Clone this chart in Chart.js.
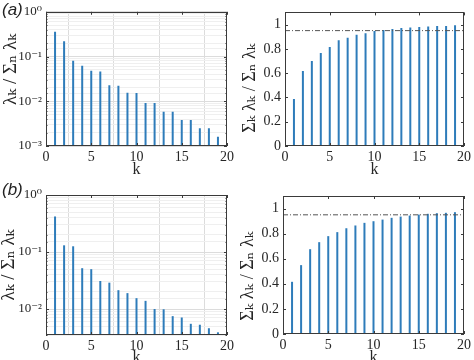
<!DOCTYPE html>
<html>
<head>
<meta charset="utf-8">
<script src="https://cdn.jsdelivr.net/npm/chart.js@4"></script>
<style>
html,body{margin:0;padding:0;background:#fff;width:474px;height:360px;overflow:hidden;}
canvas{position:absolute;}
.lab{position:absolute;font-family:"Liberation Sans",Arial,sans-serif;font-style:italic;font-size:17px;color:#222;}
</style>
</head>
<body>
<canvas id="c1" width="237" height="180" style="left:0;top:0"></canvas>
<canvas id="c2" width="237" height="180" style="left:237px;top:0"></canvas>
<canvas id="c3" width="237" height="180" style="left:0;top:180px"></canvas>
<canvas id="c4" width="237" height="180" style="left:237px;top:180px"></canvas>
<div class="lab" style="left:2px;top:0px;">(a)</div>
<div class="lab" style="left:2px;top:180px;">(b)</div>
<script>
const k = [1,2,3,4,5,6,7,8,9,10,11,12,13,14,15,16,17,18,19,20];
const eigA = [0.36,0.22,0.081,0.062,0.048,0.046,0.0228,0.0222,0.0156,0.0154,0.0092,0.0091,0.0058,0.0058,0.0038,0.0038,0.0025,0.0025,0.0016,0.0016];
const cumA = [0.386,0.617,0.70,0.766,0.816,0.87,0.891,0.915,0.928,0.947,0.955,0.963,0.971,0.976,0.979,0.984,0.987,0.989,0.995,1.0];
const eigB = [0.42,0.131,0.126,0.052,0.050,0.031,0.029,0.0214,0.019,0.0155,0.0139,0.0100,0.0099,0.0075,0.0071,0.0055,0.0053,0.0046,0.0039,0.0033];
const cumB = [0.416,0.549,0.676,0.732,0.78,0.812,0.843,0.865,0.886,0.899,0.912,0.926,0.936,0.944,0.952,0.958,0.963,0.966,0.971,0.973];
const threshold = 0.95;
const xTicks = [0,5,10,15,20];
const linTicks = [0,0.2,0.4,0.6,0.8,1];

const stemColor = '#2e7cba';
const axisColor = '#3a3a3a';
const textColor = '#262626';
const serif = '"Liberation Serif","DejaVu Serif",serif';
const sup = {'0':'⁰','1':'¹','2':'²','3':'³','-':'⁻'};
function pow10Label(v){
  const l = Math.log10(v);
  if (Math.abs(l - Math.round(l)) > 1e-6) return '';
  const s = String(Math.round(l)).split('').map(c=>sup[c]||c).join('');
  return '10' + s;
}
function isMajorLog(v){ const l=Math.log10(v); return Math.abs(l-Math.round(l))<1e-6; }

const boxPlugin = {
  id:'box',
  afterDraw(chart){
    const {ctx, chartArea:a, scales} = chart;
    ctx.save();
    ctx.strokeStyle = axisColor; ctx.lineWidth = 1;
    ctx.strokeRect(Math.round(a.left)+0.5, Math.round(a.top)+0.5, Math.round(a.right-a.left)-1, Math.round(a.bottom-a.top)-1);
    const tl = 3;
    ctx.beginPath();
    scales.x.ticks.forEach(t=>{
      const px = Math.round(scales.x.getPixelForValue(t.value))+0.5;
      ctx.moveTo(px,a.bottom); ctx.lineTo(px,a.bottom-tl);
      ctx.moveTo(px,a.top); ctx.lineTo(px,a.top+tl);
    });
    const ys = scales.y;
    ys.ticks.forEach(t=>{
      const isLog = ys.type==='logarithmic';
      const len = isLog ? (isMajorLog(t.value)?tl:1.5) : tl;
      const py = Math.round(ys.getPixelForValue(t.value))+0.5;
      if (py < a.top-1 || py > a.bottom+1) return;
      ctx.moveTo(a.left,py); ctx.lineTo(a.left+len,py);
      ctx.moveTo(a.right,py); ctx.lineTo(a.right-len,py);
    });
    ctx.stroke();
    ctx.restore();
  }
};

function makeChart(id, vals, opts){
  const datasets = [{
    type:'bar',
    data: k.map((x,i)=>({x:x, y:vals[i]})),
    backgroundColor: stemColor,
    barThickness: 2,
    maxBarThickness: 2,
    inflateAmount: 0,
    borderWidth: 0,
    clip: 0,
    order: 2
  }];
  if (opts.threshold !== undefined){
    datasets.push({
      type:'line',
      data: [{x:0,y:opts.threshold},{x:20,y:opts.threshold}],
      borderColor:'#555',
      borderWidth:1,
      borderDash:[5,2,1,2],
      pointRadius:0,
      order:1
    });
  }
  const yTitle = {display:true, text:opts.ytitle, color:textColor, font:{family:serif,size:opts.tsize}, padding:{top:opts.tpad,bottom:0}};
  const yScale = opts.log ? {
    type:'logarithmic', min: opts.ymin, max: 1,
    afterBuildTicks(scale){ scale.ticks = scale.ticks.filter(t=>t.value>=opts.ymin-1e-12 && t.value<=1+1e-12); },
    ticks:{ autoSkip:false, color:textColor, font:{family:serif,size:13}, padding:4, callback:(v)=>pow10Label(v), maxRotation:0 },
    grid:{ drawTicks:false, color:(c)=> (c.tick && isMajorLog(c.tick.value)) ? '#dcdcdc' : '#efefef', lineWidth:1 },
    border:{display:false},
    title: yTitle,
    afterFit(s){ s.width = opts.yw; }
  } : {
    type:'linear', min:0, max:1.1,
    afterBuildTicks(scale){ scale.ticks = linTicks.map(v=>({value:v})); },
    ticks:{ color:textColor, font:{family:serif,size:14}, padding:4, callback:(v)=> v===0?'0':(v===1?'1':String(v)) },
    grid:{ display:false, drawTicks:false },
    border:{display:false},
    title: yTitle,
    afterFit(s){ s.width = opts.yw; }
  };
  return new Chart(document.getElementById(id), {
    type:'bar',
    data:{ datasets },
    options:{
      responsive:false, animation:false,
      layout:{ padding: opts.pad },
      plugins:{ legend:{display:false}, tooltip:{enabled:false} },
      scales:{
        x:{
          type:'linear', min:0, max:20, offset:false,
          afterBuildTicks(scale){ scale.ticks = xTicks.map(v=>({value:v})); },
          ticks:{ color:textColor, font:{family:serif,size:14}, padding:3, maxRotation:0 },
          grid:{ display: opts.log, drawTicks:false, color:'#dcdcdc' },
          border:{display:false},
          title:{display:true, text:'k', color:textColor, font:{family:serif,size:16}, padding:{top:0,bottom:opts.kpad}},
          afterFit(s){ s.height = opts.xh; }
        },
        y: yScale
      }
    },
    plugins:[boxPlugin]
  });
}

const titleEig = 'λₖ / Σₙ λₖ';
const titleCum = 'Σₖ λₖ / Σₙ λₖ';
makeChart('c1', eigA, {log:true, ymin:0.001, ytitle:'\u00a0\u00a0\u00a0\u00a0' + titleEig, tsize:19, tpad:0, yw:46, xh:34, kpad:1, pad:{top:5,right:8,left:0,bottom:0}});
makeChart('c2', cumA, {log:false, threshold:threshold, ytitle:titleCum + '\u00a0\u00a0\u00a0\u00a0', tsize:18, tpad:2, yw:48, xh:34, kpad:1, pad:{top:8,right:6,left:0,bottom:0}});
makeChart('c3', eigB, {log:true, ymin:0.0035, ytitle:titleEig, tsize:19, tpad:-2, yw:46, xh:25, kpad:-7, pad:{top:15,right:10,left:0,bottom:0}});
makeChart('c4', cumB, {log:false, threshold:threshold, ytitle:titleCum + '\u00a0\u00a0\u00a0\u00a0\u00a0', tsize:18, tpad:0, yw:46, xh:26, kpad:-7, pad:{top:16,right:7,left:0,bottom:0}});
</script>
</body>
</html>
